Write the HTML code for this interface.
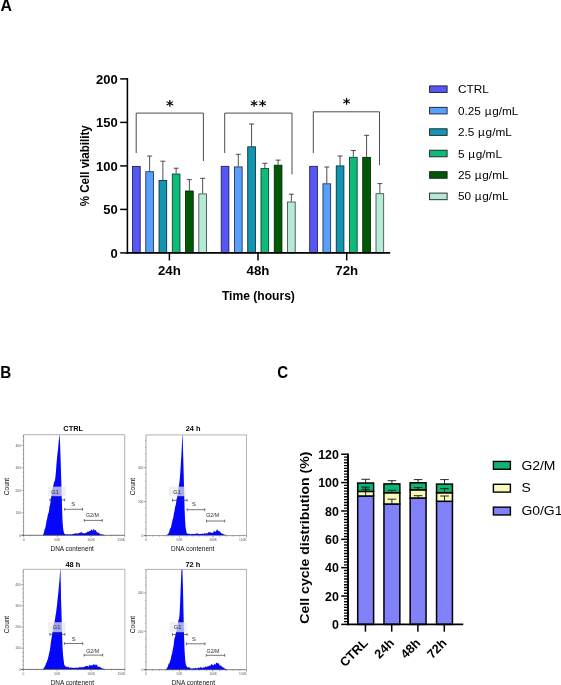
<!DOCTYPE html>
<html><head><meta charset="utf-8"><title>Figure</title>
<style>
html,body{margin:0;padding:0;background:#fff;}
svg{display:block;font-family:"Liberation Sans", sans-serif;}
text{fill:#000;}
.b{font-weight:700;}
</style></head><body>
<svg width="561" height="685" viewBox="0 0 561 685">
<rect x="0" y="0" width="561" height="685" fill="#fff"/>

<text class="b" transform="translate(0.40 11.00) scale(0.99 1)" font-size="16" text-anchor="start">A</text>
<text class="b" transform="translate(0.30 377.80) scale(0.955 1)" font-size="16" text-anchor="start">B</text>
<text class="b" transform="translate(277.30 377.80) scale(0.94 1)" font-size="16" text-anchor="start">C</text>
<g id="panelA">
<rect x="132.50" y="166.40" width="7.70" height="86.50" fill="#5757f5" stroke="#15153f" stroke-width="0.8"/>
<path d="M149.61 171.30V156.00M147.11 156.00H152.11" stroke="#222" stroke-width="0.8" fill="none"/>
<rect x="145.76" y="171.70" width="7.70" height="81.20" fill="#57a0fc" stroke="#15253a" stroke-width="0.8"/>
<path d="M162.87 180.00V161.20M160.37 161.20H165.37" stroke="#222" stroke-width="0.8" fill="none"/>
<rect x="159.02" y="180.40" width="7.70" height="72.50" fill="#1295b1" stroke="#06242b" stroke-width="0.8"/>
<path d="M176.13 173.60V168.20M173.63 168.20H178.63" stroke="#222" stroke-width="0.8" fill="none"/>
<rect x="172.28" y="174.00" width="7.70" height="78.90" fill="#0fbb78" stroke="#063322" stroke-width="0.8"/>
<path d="M189.39 190.60V179.60M186.89 179.60H191.89" stroke="#222" stroke-width="0.8" fill="none"/>
<rect x="185.54" y="191.00" width="7.70" height="61.90" fill="#005a04" stroke="#001c02" stroke-width="0.8"/>
<path d="M202.65 193.50V178.30M200.15 178.30H205.15" stroke="#222" stroke-width="0.8" fill="none"/>
<rect x="198.80" y="193.90" width="7.70" height="59.00" fill="#b4ead6" stroke="#34423c" stroke-width="0.8"/>
<rect x="221.20" y="166.30" width="7.70" height="86.60" fill="#5757f5" stroke="#15153f" stroke-width="0.8"/>
<path d="M238.31 166.50V154.30M235.81 154.30H240.81" stroke="#222" stroke-width="0.8" fill="none"/>
<rect x="234.46" y="166.90" width="7.70" height="86.00" fill="#57a0fc" stroke="#15253a" stroke-width="0.8"/>
<path d="M251.57 146.40V124.00M249.07 124.00H254.07" stroke="#222" stroke-width="0.8" fill="none"/>
<rect x="247.72" y="146.80" width="7.70" height="106.10" fill="#1295b1" stroke="#06242b" stroke-width="0.8"/>
<path d="M264.83 168.20V163.30M262.33 163.30H267.33" stroke="#222" stroke-width="0.8" fill="none"/>
<rect x="260.98" y="168.60" width="7.70" height="84.30" fill="#0fbb78" stroke="#063322" stroke-width="0.8"/>
<path d="M278.09 164.80V160.10M275.59 160.10H280.59" stroke="#222" stroke-width="0.8" fill="none"/>
<rect x="274.24" y="165.20" width="7.70" height="87.70" fill="#005a04" stroke="#001c02" stroke-width="0.8"/>
<path d="M291.35 201.60V194.20M288.85 194.20H293.85" stroke="#222" stroke-width="0.8" fill="none"/>
<rect x="287.50" y="202.00" width="7.70" height="50.90" fill="#b4ead6" stroke="#34423c" stroke-width="0.8"/>
<rect x="309.70" y="166.30" width="7.70" height="86.60" fill="#5757f5" stroke="#15153f" stroke-width="0.8"/>
<path d="M326.81 183.40V167.00M324.31 167.00H329.31" stroke="#222" stroke-width="0.8" fill="none"/>
<rect x="322.96" y="183.80" width="7.70" height="69.10" fill="#57a0fc" stroke="#15253a" stroke-width="0.8"/>
<path d="M340.07 165.50V156.00M337.57 156.00H342.57" stroke="#222" stroke-width="0.8" fill="none"/>
<rect x="336.22" y="165.90" width="7.70" height="87.00" fill="#1295b1" stroke="#06242b" stroke-width="0.8"/>
<path d="M353.33 156.90V150.50M350.83 150.50H355.83" stroke="#222" stroke-width="0.8" fill="none"/>
<rect x="349.48" y="157.30" width="7.70" height="95.60" fill="#0fbb78" stroke="#063322" stroke-width="0.8"/>
<path d="M366.59 156.90V135.30M364.09 135.30H369.09" stroke="#222" stroke-width="0.8" fill="none"/>
<rect x="362.74" y="157.30" width="7.70" height="95.60" fill="#005a04" stroke="#001c02" stroke-width="0.8"/>
<path d="M379.85 193.30V183.60M377.35 183.60H382.35" stroke="#222" stroke-width="0.8" fill="none"/>
<rect x="376.00" y="193.70" width="7.70" height="59.20" fill="#b4ead6" stroke="#34423c" stroke-width="0.8"/>
<path d="M127.4 78.10V253.70" stroke="#000" stroke-width="1.55" fill="none"/>
<path d="M126.62 252.9H390.2" stroke="#000" stroke-width="1.6" fill="none"/>
<path d="M120.2 252.90H127.4" stroke="#000" stroke-width="1.5" fill="none"/>
<text class="b" transform="translate(117.80 257.80) scale(0.985 1)" font-size="13.2" text-anchor="end">0</text>
<path d="M120.2 209.40H127.4" stroke="#000" stroke-width="1.5" fill="none"/>
<text class="b" transform="translate(117.80 214.30) scale(0.985 1)" font-size="13.2" text-anchor="end">50</text>
<path d="M120.2 165.90H127.4" stroke="#000" stroke-width="1.5" fill="none"/>
<text class="b" transform="translate(117.80 170.80) scale(0.985 1)" font-size="13.2" text-anchor="end">100</text>
<path d="M120.2 122.40H127.4" stroke="#000" stroke-width="1.5" fill="none"/>
<text class="b" transform="translate(117.80 127.30) scale(0.985 1)" font-size="13.2" text-anchor="end">150</text>
<path d="M120.2 78.90H127.4" stroke="#000" stroke-width="1.5" fill="none"/>
<text class="b" transform="translate(117.80 83.80) scale(0.985 1)" font-size="13.2" text-anchor="end">200</text>
<path d="M169.4 252.9V260.4" stroke="#000" stroke-width="1.5" fill="none"/>
<text class="b" transform="translate(169.40 274.50) scale(1.02 1)" font-size="13" text-anchor="middle">24h</text>
<path d="M258.0 252.9V260.4" stroke="#000" stroke-width="1.5" fill="none"/>
<text class="b" transform="translate(258.00 274.50) scale(1.02 1)" font-size="13" text-anchor="middle">48h</text>
<path d="M346.7 252.9V260.4" stroke="#000" stroke-width="1.5" fill="none"/>
<text class="b" transform="translate(346.70 274.50) scale(1.02 1)" font-size="13" text-anchor="middle">72h</text>
<text class="b" transform="translate(258.40 299.70)" font-size="12.1" text-anchor="middle">Time (hours)</text>
<text class="b" transform="translate(88.90 165.80) rotate(-90) scale(0.965 1)" font-size="12.0" text-anchor="middle">% Cell viability</text>
<path d="M136.2 153.0V113.1H203.4V161.0" stroke="#2a2a2a" stroke-width="0.85" fill="none"/>
<text x="169.8" y="109.7" font-size="14.7" font-weight="700" text-anchor="middle" style="font-family:'DejaVu Sans',sans-serif">*</text>
<path d="M224.7 153.0V113.1H292.0V174.4" stroke="#2a2a2a" stroke-width="0.85" fill="none"/>
<text x="254.0 262.6" y="110.0" font-size="14.7" font-weight="700" text-anchor="middle" style="font-family:'DejaVu Sans',sans-serif">**</text>
<path d="M313.3 153.0V111.8H379.5V165.2" stroke="#2a2a2a" stroke-width="0.85" fill="none"/>
<text x="346.5" y="108.4" font-size="14.7" font-weight="700" text-anchor="middle" style="font-family:'DejaVu Sans',sans-serif">*</text>
<rect x="429.6" y="85.90" width="17.5" height="6.6" fill="#5757f5" stroke="#1c1c24" stroke-width="0.9"/>
<text transform="translate(457.90 93.20)" font-size="11.8" text-anchor="start">CTRL</text>
<rect x="429.6" y="107.34" width="17.5" height="6.6" fill="#57a0fc" stroke="#1c1c24" stroke-width="0.9"/>
<text transform="translate(457.90 114.65)" font-size="11.8" text-anchor="start">0.25 <tspan dx="0.5">µ</tspan><tspan dx="0.7">g/mL</tspan></text>
<rect x="429.6" y="128.78" width="17.5" height="6.6" fill="#1295b1" stroke="#1c1c24" stroke-width="0.9"/>
<text transform="translate(457.90 136.10)" font-size="11.8" text-anchor="start">2.5 <tspan dx="0.5">µ</tspan><tspan dx="0.7">g/mL</tspan></text>
<rect x="429.6" y="150.22" width="17.5" height="6.6" fill="#0fbb78" stroke="#1c1c24" stroke-width="0.9"/>
<text transform="translate(457.90 157.55)" font-size="11.8" text-anchor="start">5 <tspan dx="0.5">µ</tspan><tspan dx="0.7">g/mL</tspan></text>
<rect x="429.6" y="171.66" width="17.5" height="6.6" fill="#005a04" stroke="#1c1c24" stroke-width="0.9"/>
<text transform="translate(457.90 179.00)" font-size="11.8" text-anchor="start">25 <tspan dx="0.5">µ</tspan><tspan dx="0.7">g/mL</tspan></text>
<rect x="429.6" y="193.10" width="17.5" height="6.6" fill="#b4ead6" stroke="#1c1c24" stroke-width="0.9"/>
<text transform="translate(457.90 200.45)" font-size="11.8" text-anchor="start">50 <tspan dx="0.5">µ</tspan><tspan dx="0.7">g/mL</tspan></text>
</g>
<g id="panelB">
<path d="M23.6 434.7H124.69999999999999" stroke="#7d7d7d" stroke-width="0.6" fill="none"/>
<path d="M124.69999999999999 434.7V535.3" stroke="#7d7d7d" stroke-width="0.6" fill="none"/>
<polygon points="43.03,535.19 43.03,535.19 43.53,533.67 44.03,532.21 44.53,529.39 45.03,528.87 45.53,526.84 46.03,524.15 46.53,520.84 47.03,519.14 47.53,516.56 48.03,514.16 48.53,513.02 49.03,510.76 49.53,506.47 50.03,505.01 50.53,501.65 51.03,497.71 51.53,493.97 52.03,491.81 52.53,488.69 53.03,486.38 53.53,484.77 54.03,482.36 54.53,481.53 55.03,479.79 55.53,475.96 56.03,470.43 56.53,463.27 57.03,457.81 57.53,453.01 58.03,449.34 58.53,443.34 59.03,438.42 59.41,434.82 59.53,435.46 59.65,434.82 60.03,442.15 60.53,456.85 61.03,473.16 61.53,489.19 62.03,506.75 62.53,520.63 63.03,527.52 63.53,530.98 64.03,532.64 64.53,533.65 65.03,534.14 65.53,534.38 66.03,534.34 66.53,534.34 67.03,534.57 67.53,534.24 68.03,534.53 68.53,534.47 69.03,534.56 69.53,534.24 70.03,534.57 70.53,534.15 71.03,534.14 71.53,534.42 72.03,534.42 72.53,534.04 73.03,533.95 73.53,533.74 74.03,533.67 74.53,533.86 75.03,533.41 75.53,533.27 76.03,533.49 76.53,533.14 77.03,533.54 77.53,533.66 78.03,533.55 78.53,533.15 79.03,532.92 79.53,532.89 80.03,532.17 80.53,532.99 81.03,532.29 81.53,532.30 82.03,532.24 82.53,532.99 83.03,533.38 83.53,533.09 84.03,533.56 84.53,533.26 85.03,532.64 85.53,532.92 86.03,533.28 86.53,532.54 87.03,532.48 87.53,531.36 88.03,531.90 88.53,531.65 89.03,531.28 89.53,531.02 90.03,531.11 90.53,530.70 91.03,530.30 91.53,529.30 92.03,529.75 92.53,530.89 93.03,529.75 93.53,529.03 94.03,529.15 94.53,530.64 95.03,529.73 95.53,530.14 96.03,530.50 96.53,531.52 97.03,532.80 97.53,532.13 98.03,532.42 98.53,532.72 99.03,533.13 99.53,533.40 100.03,533.93 100.53,534.21 101.03,534.22 101.53,534.23 102.03,534.54 102.53,534.82 103.03,534.48 103.53,534.61 104.03,534.91 104.53,535.03 105.03,535.15 105.27,535.19" fill="#0507fa"/>
<path d="M23.6 434.7V535.3" stroke="#555" stroke-width="0.6" fill="none"/>
<path d="M21.400000000000002 535.3H124.69999999999999" stroke="#333" stroke-width="0.7" fill="none"/>
<path d="M23.60 535.3v1.9M30.34 535.3v0.9M37.08 535.3v0.9M43.82 535.3v0.9M50.56 535.3v0.9M57.30 535.3v1.9M64.04 535.3v0.9M70.78 535.3v0.9M77.52 535.3v0.9M84.26 535.3v0.9M91.00 535.3v1.9M97.74 535.3v0.9M104.48 535.3v0.9M111.22 535.3v0.9M117.96 535.3v0.9M124.70 535.3v1.9" stroke="#4a4a4a" stroke-width="0.45" fill="none"/>
<text transform="translate(23.60 541.00)" font-size="3.3" text-anchor="middle" style="fill:#5a5a5a">0</text>
<text transform="translate(57.30 541.00)" font-size="3.3" text-anchor="middle" style="fill:#5a5a5a">50K</text>
<text transform="translate(91.00 541.00)" font-size="3.3" text-anchor="middle" style="fill:#5a5a5a">100K</text>
<text transform="translate(125.00 541.00)" font-size="3.3" text-anchor="end" style="fill:#5a5a5a">150K</text>
<path d="M23.6 535.30h-2.2M23.6 530.80h-0.9M23.6 526.30h-0.9M23.6 521.80h-0.9M23.6 517.30h-0.9M23.6 512.80h-2.2M23.6 508.30h-0.9M23.6 503.80h-0.9M23.6 499.30h-0.9M23.6 494.80h-0.9M23.6 490.30h-2.2M23.6 485.80h-0.9M23.6 481.30h-0.9M23.6 476.80h-0.9M23.6 472.30h-0.9M23.6 467.80h-2.2M23.6 463.30h-0.9M23.6 458.80h-0.9M23.6 454.30h-0.9M23.6 449.80h-0.9M23.6 445.30h-2.2M23.6 440.80h-0.9M23.6 436.30h-0.9" stroke="#4a4a4a" stroke-width="0.45" fill="none"/>
<text transform="translate(21.00 536.50)" font-size="3.3" text-anchor="end" style="fill:#5a5a5a">0</text>
<text transform="translate(21.00 514.00)" font-size="3.3" text-anchor="end" style="fill:#5a5a5a">100</text>
<text transform="translate(21.00 491.50)" font-size="3.3" text-anchor="end" style="fill:#5a5a5a">200</text>
<text transform="translate(21.00 469.00)" font-size="3.3" text-anchor="end" style="fill:#5a5a5a">300</text>
<text transform="translate(21.00 446.50)" font-size="3.3" text-anchor="end" style="fill:#5a5a5a">400</text>
<text class="b" transform="translate(73.20 431.40)" font-size="7.4" text-anchor="middle">CTRL</text>
<text transform="translate(9.10 486.50) rotate(-90)" font-size="6.5" text-anchor="middle" style="fill:#111">Count</text>
<text transform="translate(72.20 550.90)" font-size="6.45" text-anchor="middle" style="fill:#111">DNA contenent</text>
<rect x="48.2" y="486.6" width="17.50" height="9.60" fill="#e9e9ee" fill-opacity="0.72"/>
<text transform="translate(55.00 493.60)" font-size="5.7" text-anchor="middle" style="fill:#2e2e2e">G1</text>
<path d="M49.9 499.9H64.6M49.9 498.5v2.8M64.6 498.5v2.8" stroke="#222a55" stroke-width="0.65" fill="none"/>
<path d="M64.6 509.3H82.6M64.6 507.90000000000003v2.8M82.6 507.90000000000003v2.8" stroke="#303030" stroke-width="0.65" fill="none"/>
<path d="M84.3 520.4H102.3M84.3 519.0v2.8M102.3 519.0v2.8" stroke="#303030" stroke-width="0.65" fill="none"/>
<text transform="translate(73.20 506.00) scale(0.95 1)" font-size="6.1" text-anchor="middle" style="fill:#2e2e2e">S</text>
<text transform="translate(92.40 516.90) scale(0.86 1)" font-size="6.1" text-anchor="middle" style="fill:#2e2e2e">G2/M</text>
<path d="M146.0 434.8H246.5" stroke="#c2c2c2" stroke-width="1.2" fill="none"/>
<path d="M246.5 434.8V535.6" stroke="#858585" stroke-width="0.6" fill="none"/>
<polygon points="166.03,535.59 166.03,535.55 166.53,535.36 167.03,535.09 167.53,534.36 168.03,534.05 168.53,533.27 169.03,532.47 169.53,530.40 170.03,528.74 170.53,528.11 171.03,527.49 171.53,524.23 172.03,522.43 172.53,519.86 173.03,518.39 173.53,516.05 174.03,512.69 174.53,511.15 175.03,507.16 175.53,505.86 176.03,503.47 176.53,499.59 177.03,497.69 177.53,494.67 178.03,492.23 178.53,487.92 179.03,485.02 179.53,481.38 180.03,476.02 180.53,469.01 181.03,460.30 181.53,452.79 182.03,441.45 182.41,434.82 182.53,435.61 182.65,434.82 183.03,450.17 183.53,467.86 184.03,487.21 184.53,506.62 185.03,519.43 185.53,526.87 186.03,529.49 186.53,532.79 187.03,533.19 187.53,533.97 188.03,533.34 188.53,533.90 189.03,534.08 189.53,533.51 190.03,533.93 190.53,534.39 191.03,534.09 191.53,534.00 192.03,533.87 192.53,534.28 193.03,533.70 193.53,534.03 194.03,533.95 194.53,533.90 195.03,533.43 195.53,533.92 196.03,534.16 196.53,533.26 197.03,533.01 197.53,533.78 198.03,533.67 198.53,533.72 199.03,533.70 199.53,534.27 200.03,533.85 200.53,533.90 201.03,533.65 201.53,533.95 202.03,534.00 202.53,533.50 203.03,533.17 203.53,534.14 204.03,534.00 204.53,532.87 205.03,533.45 205.53,533.53 206.03,533.08 206.53,533.45 207.03,533.71 207.53,533.10 208.03,532.72 208.53,532.35 209.03,532.37 209.53,532.14 210.03,532.01 210.53,532.11 211.03,533.13 211.53,532.55 212.03,532.89 212.53,532.95 213.03,532.58 213.53,530.76 214.03,532.52 214.53,530.38 215.03,531.81 215.53,531.78 216.03,531.14 216.53,530.32 217.03,529.34 217.53,529.62 218.03,531.20 218.53,530.50 219.03,531.45 219.53,531.20 220.03,531.41 220.53,532.08 221.03,533.16 221.53,533.16 222.03,533.32 222.53,533.66 223.03,533.95 223.53,534.13 224.03,534.30 224.53,534.83 225.03,534.85 225.53,534.71 226.03,534.91 226.53,534.99 227.03,535.51 227.06,535.59" fill="#0507fa"/>
<path d="M146.0 434.8V535.6" stroke="#b0b0b0" stroke-width="1.1" fill="none"/>
<path d="M143.8 535.6H246.5" stroke="#8a8a8a" stroke-width="0.9" fill="none"/>
<path d="M146.00 535.6v1.9M152.70 535.6v0.9M159.40 535.6v0.9M166.10 535.6v0.9M172.80 535.6v0.9M179.50 535.6v1.9M186.20 535.6v0.9M192.90 535.6v0.9M199.60 535.6v0.9M206.30 535.6v0.9M213.00 535.6v1.9M219.70 535.6v0.9M226.40 535.6v0.9M233.10 535.6v0.9M239.80 535.6v0.9M246.50 535.6v1.9" stroke="#4a4a4a" stroke-width="0.45" fill="none"/>
<text transform="translate(146.00 541.30)" font-size="3.3" text-anchor="middle" style="fill:#5a5a5a">0</text>
<text transform="translate(179.50 541.30)" font-size="3.3" text-anchor="middle" style="fill:#5a5a5a">50K</text>
<text transform="translate(213.00 541.30)" font-size="3.3" text-anchor="middle" style="fill:#5a5a5a">100K</text>
<text transform="translate(246.80 541.30)" font-size="3.3" text-anchor="end" style="fill:#5a5a5a">150K</text>
<path d="M146.0 535.60h-2.2M146.0 528.80h-0.9M146.0 522.00h-0.9M146.0 515.20h-0.9M146.0 508.40h-0.9M146.0 501.60h-2.2M146.0 494.80h-0.9M146.0 488.00h-0.9M146.0 481.20h-0.9M146.0 474.40h-0.9M146.0 467.60h-2.2M146.0 460.80h-0.9M146.0 454.00h-0.9M146.0 447.20h-0.9M146.0 440.40h-0.9" stroke="#4a4a4a" stroke-width="0.45" fill="none"/>
<text transform="translate(143.40 536.80)" font-size="3.3" text-anchor="end" style="fill:#5a5a5a">0</text>
<text transform="translate(143.40 502.80)" font-size="3.3" text-anchor="end" style="fill:#5a5a5a">200</text>
<text transform="translate(143.40 468.80)" font-size="3.3" text-anchor="end" style="fill:#5a5a5a">400</text>
<text class="b" transform="translate(193.10 431.40)" font-size="7.4" text-anchor="middle">24 h</text>
<text transform="translate(135.00 486.50) rotate(-90)" font-size="6.5" text-anchor="middle" style="fill:#111">Count</text>
<text transform="translate(192.70 550.90)" font-size="6.45" text-anchor="middle" style="fill:#111">DNA contenent</text>
<rect x="168.9" y="486.6" width="16.40" height="9.60" fill="#e9e9ee" fill-opacity="0.72"/>
<text transform="translate(177.00 493.60)" font-size="5.7" text-anchor="middle" style="fill:#2e2e2e">G1</text>
<path d="M172.5 500.3H187.1M172.5 498.90000000000003v2.8M187.1 498.90000000000003v2.8" stroke="#222a55" stroke-width="0.65" fill="none"/>
<path d="M187.1 509.7H204.8M187.1 508.3v2.8M204.8 508.3v2.8" stroke="#303030" stroke-width="0.65" fill="none"/>
<path d="M206.5 521.0H224.7M206.5 519.6v2.8M224.7 519.6v2.8" stroke="#303030" stroke-width="0.65" fill="none"/>
<text transform="translate(193.90 506.00) scale(0.95 1)" font-size="6.1" text-anchor="middle" style="fill:#2e2e2e">S</text>
<text transform="translate(212.70 516.90) scale(0.86 1)" font-size="6.1" text-anchor="middle" style="fill:#2e2e2e">G2/M</text>
<path d="M23.3 569.3H124.89999999999999" stroke="#a5a5a5" stroke-width="0.8" fill="none"/>
<path d="M124.89999999999999 569.3V669.4" stroke="#858585" stroke-width="0.6" fill="none"/>
<polygon points="43.03,669.25 43.03,669.20 43.53,668.53 44.03,667.31 44.53,667.55 45.03,665.55 45.53,665.38 46.03,662.82 46.53,663.28 47.03,660.65 47.53,660.09 48.03,658.22 48.53,656.06 49.03,653.62 49.53,651.70 50.03,649.13 50.53,644.96 51.03,641.56 51.53,638.09 52.03,634.94 52.53,631.70 53.03,628.73 53.53,627.25 54.03,623.36 54.53,621.93 55.03,619.32 55.53,615.46 56.03,612.96 56.53,608.77 57.03,604.92 57.53,599.62 58.03,595.47 58.53,590.56 59.03,584.58 59.53,579.96 60.03,571.41 60.21,569.50 60.45,569.50 60.53,572.71 61.03,597.72 61.53,614.66 62.03,631.42 62.53,647.21 63.03,655.02 63.53,659.23 64.03,663.23 64.53,665.95 65.03,664.93 65.53,666.53 66.03,666.98 66.53,666.63 67.03,666.41 67.53,666.89 68.03,667.49 68.53,666.59 69.03,667.26 69.53,667.96 70.03,667.76 70.53,667.58 71.03,667.36 71.53,667.76 72.03,667.48 72.53,667.86 73.03,667.91 73.53,667.75 74.03,668.11 74.53,667.81 75.03,667.83 75.53,668.10 76.03,667.60 76.53,667.52 77.03,667.82 77.53,667.68 78.03,668.04 78.53,667.47 79.03,667.51 79.53,667.10 80.03,667.39 80.53,667.14 81.03,667.18 81.53,667.46 82.03,666.47 82.53,667.60 83.03,667.17 83.53,667.25 84.03,666.80 84.53,666.78 85.03,666.46 85.53,666.37 86.03,666.01 86.53,666.06 87.03,665.95 87.53,665.87 88.03,666.77 88.53,666.47 89.03,666.05 89.53,664.65 90.03,665.01 90.53,665.47 91.03,665.69 91.53,664.93 92.03,665.31 92.53,665.84 93.03,664.17 93.53,664.31 94.03,665.19 94.53,664.28 95.03,665.40 95.53,664.77 96.03,664.06 96.53,665.23 97.03,664.60 97.53,666.35 98.03,666.70 98.53,666.41 99.03,667.24 99.53,666.56 100.03,667.16 100.53,667.20 101.03,667.44 101.53,668.31 102.03,668.12 102.53,668.71 103.03,668.60 103.53,668.78 104.03,668.52 104.53,669.25 104.75,669.25" fill="#0507fa"/>
<path d="M23.3 569.3V669.4" stroke="#666" stroke-width="0.6" fill="none"/>
<path d="M21.1 669.4H124.89999999999999" stroke="#333" stroke-width="0.7" fill="none"/>
<path d="M23.30 669.4v1.9M30.07 669.4v0.9M36.85 669.4v0.9M43.62 669.4v0.9M50.39 669.4v0.9M57.17 669.4v1.9M63.94 669.4v0.9M70.71 669.4v0.9M77.49 669.4v0.9M84.26 669.4v0.9M91.03 669.4v1.9M97.81 669.4v0.9M104.58 669.4v0.9M111.35 669.4v0.9M118.13 669.4v0.9M124.90 669.4v1.9" stroke="#4a4a4a" stroke-width="0.45" fill="none"/>
<text transform="translate(23.30 675.10)" font-size="3.3" text-anchor="middle" style="fill:#5a5a5a">0</text>
<text transform="translate(57.17 675.10)" font-size="3.3" text-anchor="middle" style="fill:#5a5a5a">50K</text>
<text transform="translate(91.03 675.10)" font-size="3.3" text-anchor="middle" style="fill:#5a5a5a">100K</text>
<text transform="translate(125.20 675.10)" font-size="3.3" text-anchor="end" style="fill:#5a5a5a">150K</text>
<path d="M23.3 669.40h-2.2M23.3 665.16h-0.9M23.3 660.92h-0.9M23.3 656.68h-0.9M23.3 652.44h-0.9M23.3 648.20h-2.2M23.3 643.96h-0.9M23.3 639.72h-0.9M23.3 635.48h-0.9M23.3 631.24h-0.9M23.3 627.00h-2.2M23.3 622.76h-0.9M23.3 618.52h-0.9M23.3 614.28h-0.9M23.3 610.04h-0.9M23.3 605.80h-2.2M23.3 601.56h-0.9M23.3 597.32h-0.9M23.3 593.08h-0.9M23.3 588.84h-0.9M23.3 584.60h-2.2M23.3 580.36h-0.9M23.3 576.12h-0.9M23.3 571.88h-0.9" stroke="#4a4a4a" stroke-width="0.45" fill="none"/>
<text transform="translate(20.70 670.60)" font-size="3.3" text-anchor="end" style="fill:#5a5a5a">0</text>
<text transform="translate(20.70 649.40)" font-size="3.3" text-anchor="end" style="fill:#5a5a5a">100</text>
<text transform="translate(20.70 628.20)" font-size="3.3" text-anchor="end" style="fill:#5a5a5a">200</text>
<text transform="translate(20.70 607.00)" font-size="3.3" text-anchor="end" style="fill:#5a5a5a">300</text>
<text transform="translate(20.70 585.80)" font-size="3.3" text-anchor="end" style="fill:#5a5a5a">400</text>
<text class="b" transform="translate(72.90 566.70)" font-size="7.4" text-anchor="middle">48 h</text>
<text transform="translate(8.90 624.50) rotate(-90)" font-size="6.5" text-anchor="middle" style="fill:#111">Count</text>
<text transform="translate(72.30 684.70)" font-size="6.45" text-anchor="middle" style="fill:#111">DNA contenent</text>
<rect x="48.2" y="622.2" width="17.20" height="10.00" fill="#e9e9ee" fill-opacity="0.72"/>
<text transform="translate(56.60 629.40)" font-size="5.7" text-anchor="middle" style="fill:#2e2e2e">G1</text>
<path d="M49.8 634.3H64.9M49.8 632.9v2.8M64.9 632.9v2.8" stroke="#222a55" stroke-width="0.65" fill="none"/>
<path d="M64.4 643.5H82.7M64.4 642.1v2.8M82.7 642.1v2.8" stroke="#303030" stroke-width="0.65" fill="none"/>
<path d="M84.1 655.1H102.7M84.1 653.7v2.8M102.7 653.7v2.8" stroke="#303030" stroke-width="0.65" fill="none"/>
<text transform="translate(73.70 641.40) scale(0.95 1)" font-size="6.1" text-anchor="middle" style="fill:#2e2e2e">S</text>
<text transform="translate(92.70 652.60) scale(0.86 1)" font-size="6.1" text-anchor="middle" style="fill:#2e2e2e">G2/M</text>
<path d="M146.0 569.4H246.5" stroke="#a5a5a5" stroke-width="0.9" fill="none"/>
<path d="M246.5 569.4V669.6999999999999" stroke="#858585" stroke-width="0.6" fill="none"/>
<polygon points="166.03,669.72 166.03,669.14 166.53,668.41 167.03,667.79 167.53,667.42 168.03,665.72 168.53,664.32 169.03,663.36 169.53,663.37 170.03,660.64 170.53,660.17 171.03,657.81 171.53,655.05 172.03,653.77 172.53,651.03 173.03,648.21 173.53,646.37 174.03,641.42 174.53,637.72 175.03,636.88 175.53,634.36 176.03,632.21 176.53,630.55 177.03,628.58 177.53,626.76 178.03,622.80 178.53,620.24 179.03,618.82 179.53,614.76 180.03,605.12 180.53,592.39 181.03,579.18 181.45,569.50 181.53,569.50 182.03,570.04 182.41,569.50 182.53,574.62 183.03,590.35 183.53,613.56 184.03,635.52 184.53,649.35 185.03,657.91 185.53,662.66 186.03,665.47 186.53,665.52 187.03,667.54 187.53,667.45 188.03,667.10 188.53,667.31 189.03,667.34 189.53,667.55 190.03,667.96 190.53,668.27 191.03,668.49 191.53,668.60 192.03,668.71 192.53,668.58 193.03,668.17 193.53,668.04 194.03,668.38 194.53,668.29 195.03,668.37 195.53,667.85 196.03,667.91 196.53,668.52 197.03,668.18 197.53,668.15 198.03,667.40 198.53,667.59 199.03,668.07 199.53,667.64 200.03,667.98 200.53,666.85 201.03,667.27 201.53,667.79 202.03,667.39 202.53,667.88 203.03,667.66 203.53,667.21 204.03,667.11 204.53,668.03 205.03,666.66 205.53,666.54 206.03,666.55 206.53,667.00 207.03,667.09 207.53,666.22 208.03,666.13 208.53,666.61 209.03,665.40 209.53,665.46 210.03,665.88 210.53,665.81 211.03,664.20 211.53,664.18 212.03,664.04 212.53,665.26 213.03,664.98 213.53,665.46 214.03,664.76 214.53,663.36 215.03,664.44 215.53,664.83 216.03,663.14 216.53,662.17 217.03,663.29 217.53,663.32 218.03,663.31 218.53,663.25 219.03,663.73 219.53,665.91 220.03,664.32 220.53,666.04 221.03,665.56 221.53,665.98 222.03,667.39 222.53,666.87 223.03,667.04 223.53,667.68 224.03,668.20 224.53,668.32 225.03,668.76 225.53,668.65 226.03,668.92 226.53,669.22 227.03,669.32 227.43,669.72" fill="#0507fa"/>
<path d="M146.0 569.4V669.6999999999999" stroke="#999" stroke-width="0.9" fill="none"/>
<path d="M143.8 669.6999999999999H246.5" stroke="#444" stroke-width="0.7" fill="none"/>
<path d="M146.00 669.6999999999999v1.9M152.70 669.6999999999999v0.9M159.40 669.6999999999999v0.9M166.10 669.6999999999999v0.9M172.80 669.6999999999999v0.9M179.50 669.6999999999999v1.9M186.20 669.6999999999999v0.9M192.90 669.6999999999999v0.9M199.60 669.6999999999999v0.9M206.30 669.6999999999999v0.9M213.00 669.6999999999999v1.9M219.70 669.6999999999999v0.9M226.40 669.6999999999999v0.9M233.10 669.6999999999999v0.9M239.80 669.6999999999999v0.9M246.50 669.6999999999999v1.9" stroke="#4a4a4a" stroke-width="0.45" fill="none"/>
<text transform="translate(146.00 675.40)" font-size="3.3" text-anchor="middle" style="fill:#5a5a5a">0</text>
<text transform="translate(179.50 675.40)" font-size="3.3" text-anchor="middle" style="fill:#5a5a5a">50K</text>
<text transform="translate(213.00 675.40)" font-size="3.3" text-anchor="middle" style="fill:#5a5a5a">100K</text>
<text transform="translate(246.80 675.40)" font-size="3.3" text-anchor="end" style="fill:#5a5a5a">150K</text>
<path d="M146.0 669.70h-2.2M146.0 662.02h-0.9M146.0 654.34h-0.9M146.0 646.66h-0.9M146.0 638.98h-0.9M146.0 631.30h-2.2M146.0 623.62h-0.9M146.0 615.94h-0.9M146.0 608.26h-0.9M146.0 600.58h-0.9M146.0 592.90h-2.2M146.0 585.22h-0.9M146.0 577.54h-0.9M146.0 569.86h-0.9" stroke="#4a4a4a" stroke-width="0.45" fill="none"/>
<text transform="translate(143.40 670.90)" font-size="3.3" text-anchor="end" style="fill:#5a5a5a">0</text>
<text transform="translate(143.40 632.50)" font-size="3.3" text-anchor="end" style="fill:#5a5a5a">200</text>
<text transform="translate(143.40 594.10)" font-size="3.3" text-anchor="end" style="fill:#5a5a5a">400</text>
<text class="b" transform="translate(192.80 566.70)" font-size="7.4" text-anchor="middle">72 h</text>
<text transform="translate(135.10 624.50) rotate(-90)" font-size="6.5" text-anchor="middle" style="fill:#111">Count</text>
<text transform="translate(193.30 684.60)" font-size="6.45" text-anchor="middle" style="fill:#111">DNA contenent</text>
<rect x="169.5" y="622.2" width="16.90" height="10.00" fill="#e9e9ee" fill-opacity="0.72"/>
<text transform="translate(177.60 629.40)" font-size="5.7" text-anchor="middle" style="fill:#2e2e2e">G1</text>
<path d="M172.5 634.5H187.1M172.5 633.1v2.8M187.1 633.1v2.8" stroke="#222a55" stroke-width="0.65" fill="none"/>
<path d="M186.4 643.8H205.0M186.4 642.4v2.8M205.0 642.4v2.8" stroke="#303030" stroke-width="0.65" fill="none"/>
<path d="M206.3 655.3H224.7M206.3 653.9v2.8M224.7 653.9v2.8" stroke="#303030" stroke-width="0.65" fill="none"/>
<text transform="translate(194.00 641.40) scale(0.95 1)" font-size="6.1" text-anchor="middle" style="fill:#2e2e2e">S</text>
<text transform="translate(213.00 652.60) scale(0.86 1)" font-size="6.1" text-anchor="middle" style="fill:#2e2e2e">G2/M</text>
</g>
<g id="panelC">
<rect x="357.70" y="496.00" width="15.90" height="128.40" fill="#8181fa" stroke="#000" stroke-width="1.5"/>
<rect x="357.70" y="491.40" width="15.90" height="4.60" fill="#f7f9b7" stroke="#000" stroke-width="1.5"/>
<rect x="357.70" y="483.05" width="15.90" height="8.35" fill="#10b473" stroke="#000" stroke-width="1.5"/>
<path d="M365.65 496.00V489.25M361.35 489.25H369.95" stroke="#111" stroke-width="0.9" fill="none"/>
<path d="M365.65 491.40V487.10M361.35 487.10H369.95" stroke="#111" stroke-width="0.9" fill="none"/>
<path d="M365.65 483.05V479.30M361.35 479.30H369.95" stroke="#111" stroke-width="0.9" fill="none"/>
<rect x="383.95" y="504.00" width="15.90" height="120.40" fill="#8181fa" stroke="#000" stroke-width="1.5"/>
<rect x="383.95" y="492.70" width="15.90" height="11.30" fill="#f7f9b7" stroke="#000" stroke-width="1.5"/>
<rect x="383.95" y="483.90" width="15.90" height="8.80" fill="#10b473" stroke="#000" stroke-width="1.5"/>
<path d="M391.90 504.00V499.20M387.60 499.20H396.20" stroke="#111" stroke-width="0.9" fill="none"/>
<path d="M391.90 492.70V490.30M387.60 490.30H396.20" stroke="#111" stroke-width="0.9" fill="none"/>
<path d="M391.90 483.90V480.70M387.60 480.70H396.20" stroke="#111" stroke-width="0.9" fill="none"/>
<rect x="410.15" y="498.00" width="15.90" height="126.40" fill="#8181fa" stroke="#000" stroke-width="1.5"/>
<rect x="410.15" y="489.80" width="15.90" height="8.20" fill="#f7f9b7" stroke="#000" stroke-width="1.5"/>
<rect x="410.15" y="482.80" width="15.90" height="7.00" fill="#10b473" stroke="#000" stroke-width="1.5"/>
<path d="M418.10 498.00V495.70M413.80 495.70H422.40" stroke="#111" stroke-width="0.9" fill="none"/>
<path d="M418.10 489.80V487.60M413.80 487.60H422.40" stroke="#111" stroke-width="0.9" fill="none"/>
<path d="M418.10 482.80V479.60M413.80 479.60H422.40" stroke="#111" stroke-width="0.9" fill="none"/>
<rect x="436.55" y="501.30" width="15.90" height="123.10" fill="#8181fa" stroke="#000" stroke-width="1.5"/>
<rect x="436.55" y="492.70" width="15.90" height="8.60" fill="#f7f9b7" stroke="#000" stroke-width="1.5"/>
<rect x="436.55" y="484.10" width="15.90" height="8.60" fill="#10b473" stroke="#000" stroke-width="1.5"/>
<path d="M444.50 501.30V496.00M440.20 496.00H448.80" stroke="#111" stroke-width="0.9" fill="none"/>
<path d="M444.50 492.70V488.70M440.20 488.70H448.80" stroke="#111" stroke-width="0.9" fill="none"/>
<path d="M444.50 484.10V479.60M440.20 479.60H448.80" stroke="#111" stroke-width="0.9" fill="none"/>
<path d="M348.0 453.49V625.30" stroke="#000" stroke-width="1.9" fill="none"/>
<path d="M347.05 624.4H463.3" stroke="#000" stroke-width="1.8" fill="none"/>
<path d="M344.0 621.56H348.0M344.0 618.73H348.0M344.0 615.89H348.0M344.0 613.06H348.0M344.0 610.22H348.0M344.0 607.38H348.0M344.0 604.55H348.0M344.0 601.71H348.0M344.0 598.88H348.0M344.0 593.20H348.0M344.0 590.37H348.0M344.0 587.53H348.0M344.0 584.70H348.0M344.0 581.86H348.0M344.0 579.02H348.0M344.0 576.19H348.0M344.0 573.35H348.0M344.0 570.52H348.0M344.0 564.84H348.0M344.0 562.01H348.0M344.0 559.17H348.0M344.0 556.34H348.0M344.0 553.50H348.0M344.0 550.66H348.0M344.0 547.83H348.0M344.0 544.99H348.0M344.0 542.16H348.0M344.0 536.48H348.0M344.0 533.65H348.0M344.0 530.81H348.0M344.0 527.98H348.0M344.0 525.14H348.0M344.0 522.30H348.0M344.0 519.47H348.0M344.0 516.63H348.0M344.0 513.80H348.0M344.0 508.12H348.0M344.0 505.29H348.0M344.0 502.45H348.0M344.0 499.62H348.0M344.0 496.78H348.0M344.0 493.94H348.0M344.0 491.11H348.0M344.0 488.27H348.0M344.0 485.44H348.0M344.0 479.76H348.0M344.0 476.93H348.0M344.0 474.09H348.0M344.0 471.26H348.0M344.0 468.42H348.0M344.0 465.58H348.0M344.0 462.75H348.0M344.0 459.91H348.0M344.0 457.08H348.0" stroke="#000" stroke-width="1.35" fill="none"/>
<path d="M341.2 624.40H348.0" stroke="#000" stroke-width="1.5" fill="none"/>
<text class="b" transform="translate(338.90 629.10) scale(1.02 1)" font-size="12.2" text-anchor="end">0</text>
<path d="M341.2 596.04H348.0" stroke="#000" stroke-width="1.5" fill="none"/>
<text class="b" transform="translate(338.90 600.74) scale(1.02 1)" font-size="12.2" text-anchor="end">20</text>
<path d="M341.2 567.68H348.0" stroke="#000" stroke-width="1.5" fill="none"/>
<text class="b" transform="translate(338.90 572.38) scale(1.02 1)" font-size="12.2" text-anchor="end">40</text>
<path d="M341.2 539.32H348.0" stroke="#000" stroke-width="1.5" fill="none"/>
<text class="b" transform="translate(338.90 544.02) scale(1.02 1)" font-size="12.2" text-anchor="end">60</text>
<path d="M341.2 510.96H348.0" stroke="#000" stroke-width="1.5" fill="none"/>
<text class="b" transform="translate(338.90 515.66) scale(1.02 1)" font-size="12.2" text-anchor="end">80</text>
<path d="M341.2 482.60H348.0" stroke="#000" stroke-width="1.5" fill="none"/>
<text class="b" transform="translate(338.90 487.30) scale(1.02 1)" font-size="12.2" text-anchor="end">100</text>
<path d="M341.2 454.24H348.0" stroke="#000" stroke-width="1.5" fill="none"/>
<text class="b" transform="translate(338.90 458.94) scale(1.02 1)" font-size="12.2" text-anchor="end">120</text>
<path d="M365.45 624.4V631.7" stroke="#000" stroke-width="1.5" fill="none"/>
<text class="b" transform="translate(368.65 643.80) rotate(-45)" font-size="12.6" text-anchor="end">CTRL</text>
<path d="M391.70 624.4V631.7" stroke="#000" stroke-width="1.5" fill="none"/>
<text class="b" transform="translate(394.90 643.80) rotate(-45)" font-size="12.6" text-anchor="end">24h</text>
<path d="M417.90 624.4V631.7" stroke="#000" stroke-width="1.5" fill="none"/>
<text class="b" transform="translate(421.10 643.80) rotate(-45)" font-size="12.6" text-anchor="end">48h</text>
<path d="M444.30 624.4V631.7" stroke="#000" stroke-width="1.5" fill="none"/>
<text class="b" transform="translate(447.50 643.80) rotate(-45)" font-size="12.6" text-anchor="end">72h</text>
<text class="b" transform="translate(308.90 537.60) rotate(-90) scale(1.06 1)" font-size="13.3" text-anchor="middle">Cell cycle distribution (%)</text>
<rect x="493.4" y="461.45" width="17.0" height="7.8" fill="#10b473" stroke="#000" stroke-width="1.4"/>
<text transform="translate(521.40 469.55) scale(1.04 1)" font-size="13.4" text-anchor="start">G2/M</text>
<rect x="493.4" y="484.30" width="17.0" height="7.8" fill="#f7f9b7" stroke="#000" stroke-width="1.4"/>
<text transform="translate(521.40 492.40) scale(1.04 1)" font-size="13.4" text-anchor="start">S</text>
<rect x="493.4" y="507.15" width="17.0" height="7.8" fill="#8181fa" stroke="#000" stroke-width="1.4"/>
<text transform="translate(521.40 515.25) scale(1.04 1)" font-size="13.4" text-anchor="start">G0/G1</text>
</g>
</svg>
</body></html>
